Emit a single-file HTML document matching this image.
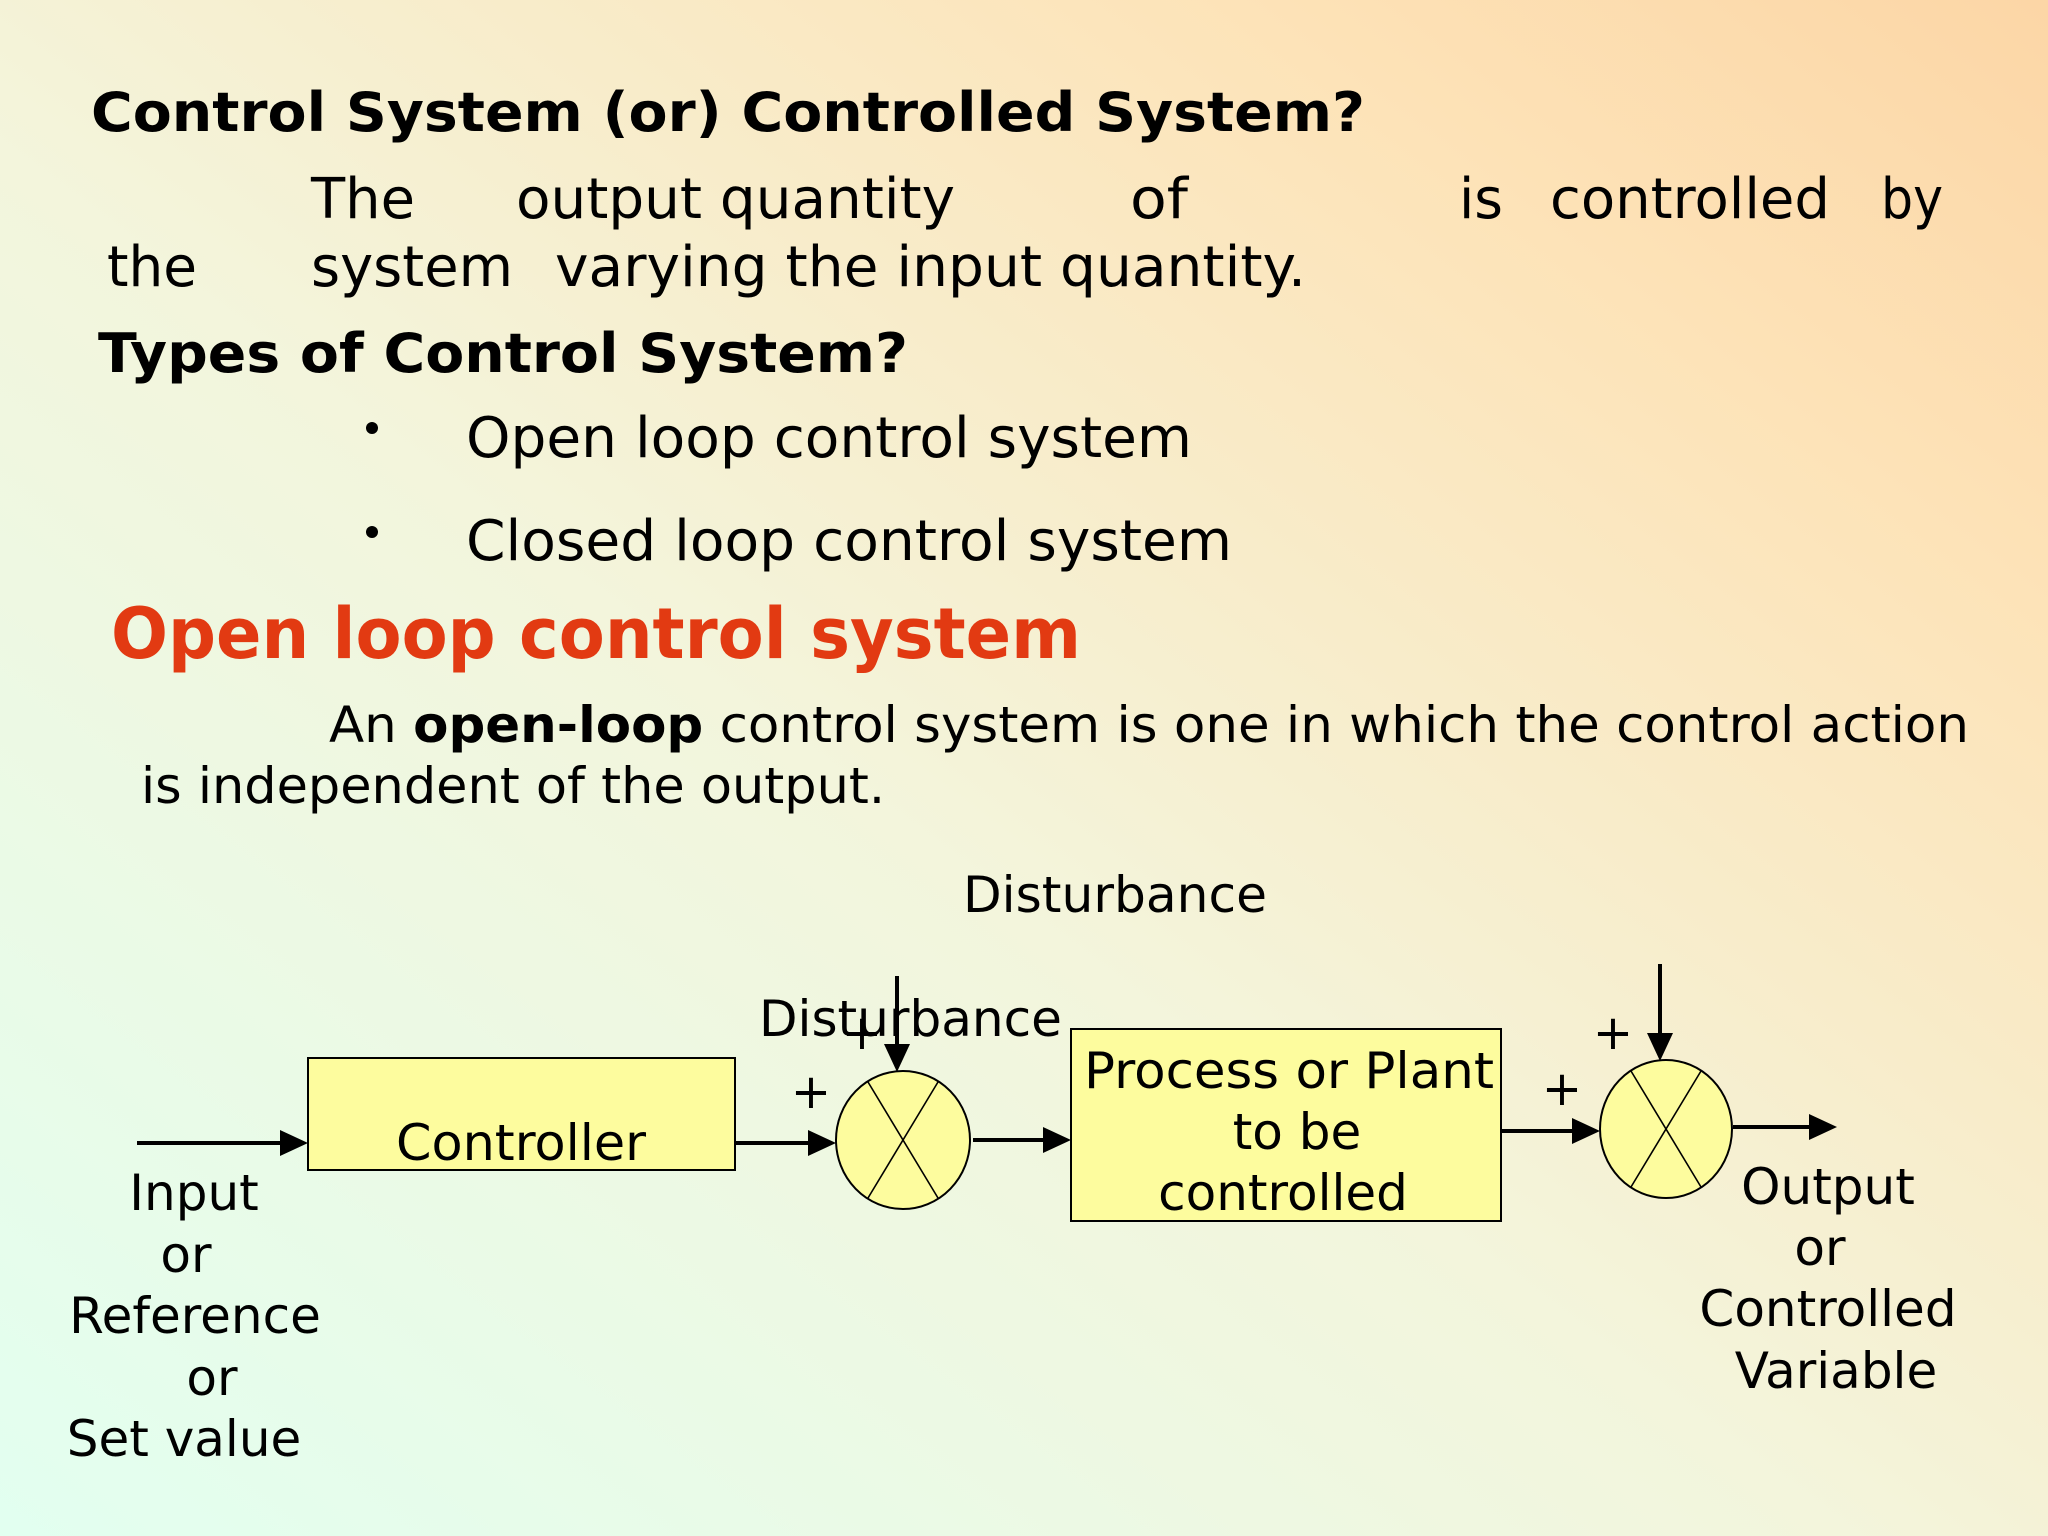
<!DOCTYPE html>
<html><head><meta charset="utf-8"><style>
html,body{margin:0;padding:0;}
body{width:2048px;height:1536px;overflow:hidden;background:linear-gradient(to top right,#e2fff0 0%,#f3f5dc 45%,#fde3b8 80%,#fcd6a6 100%);}
svg{display:block;font-family:"DejaVu Sans","Liberation Sans",sans-serif;}
</style></head><body>
<svg width="2048" height="1536" viewBox="0 0 2048 1536" xmlns="http://www.w3.org/2000/svg">
<g stroke="#000" stroke-width="2" fill="#fdfc9e">
<rect x="308" y="1058" width="427" height="112"/>
<rect x="1071" y="1029" width="430" height="192"/>
<ellipse cx="903" cy="1140" rx="67" ry="69"/>
<ellipse cx="1666" cy="1129" rx="66" ry="69"/>
</g>
<g stroke="#000" stroke-width="1.6">
<line x1="868" y1="1082" x2="938" y2="1198"/>
<line x1="938" y1="1082" x2="868" y2="1198"/>
<line x1="1631" y1="1071" x2="1701" y2="1187"/>
<line x1="1701" y1="1071" x2="1631" y2="1187"/>
</g>
<g stroke="#000" stroke-width="4" fill="none">
<line x1="137" y1="1143" x2="286" y2="1143"/>
<line x1="735" y1="1143" x2="814" y2="1143"/>
<line x1="973" y1="1140" x2="1049" y2="1140"/>
<line x1="1501" y1="1131" x2="1578" y2="1131"/>
<line x1="1733" y1="1127" x2="1815" y2="1127"/>
<line x1="897" y1="976" x2="897" y2="1048"/>
<line x1="1660" y1="964" x2="1660" y2="1037"/>
</g>
<g fill="#000">
<path d="M308,1143 l-28,-13 v26 z"/>
<path d="M836,1143 l-28,-13 v26 z"/>
<path d="M1071,1140 l-28,-13 v26 z"/>
<path d="M1600,1131 l-28,-13 v26 z"/>
<path d="M1837,1127 l-28,-13 v26 z"/>
<path d="M897,1072 l-13,-28 h26 z"/>
<path d="M1660,1061 l-13,-28 h26 z"/>
</g>
<g fill="#000">
<text x="91" y="131" font-size="54" font-weight="bold" textLength="1274" lengthAdjust="spacingAndGlyphs">Control System (or) Controlled System?</text>
<g font-size="56">
<text x="311" y="218" textLength="104" lengthAdjust="spacingAndGlyphs">The</text>
<text x="516" y="218" textLength="439" lengthAdjust="spacingAndGlyphs">output quantity</text>
<text x="1130" y="218" textLength="58" lengthAdjust="spacingAndGlyphs">of</text>
<text x="1459" y="218" textLength="44" lengthAdjust="spacingAndGlyphs">is</text>
<text x="1550" y="218" textLength="280" lengthAdjust="spacingAndGlyphs">controlled</text>
<text x="1881" y="218" textLength="62" lengthAdjust="spacingAndGlyphs">by</text>
<text x="107" y="286" textLength="90" lengthAdjust="spacingAndGlyphs">the</text>
<text x="311" y="286" textLength="202" lengthAdjust="spacingAndGlyphs">system</text>
<text x="555" y="286" textLength="751" lengthAdjust="spacingAndGlyphs">varying the input quantity.</text>
</g>
<text x="98" y="372" font-size="54" font-weight="bold" textLength="810" lengthAdjust="spacingAndGlyphs">Types of Control System?</text>
<circle cx="372" cy="428" r="6"/>
<circle cx="372" cy="532" r="6"/>
<text x="466" y="457" font-size="56" textLength="726" lengthAdjust="spacingAndGlyphs">Open loop control system</text>
<text x="466" y="560" font-size="56" textLength="766" lengthAdjust="spacingAndGlyphs">Closed loop control system</text>
<text x="111" y="658" font-size="70" font-weight="bold" fill="#e23a12" textLength="970" lengthAdjust="spacingAndGlyphs">Open loop control system</text>
<text x="329" y="742" font-size="50" textLength="1640" lengthAdjust="spacingAndGlyphs">An <tspan font-weight="bold">open-loop</tspan> control system is one in which the control action</text>
<text x="141" y="803" font-size="50" textLength="744" lengthAdjust="spacingAndGlyphs">is independent of the output.</text>

<g font-size="50">
<text x="963" y="912" textLength="304" lengthAdjust="spacingAndGlyphs">Disturbance</text>
<text x="759" y="1036" textLength="303" lengthAdjust="spacingAndGlyphs">Disturbance</text>
<g text-anchor="middle">
<text x="194" y="1210">Input</text>
<text x="186" y="1272">or</text>
<text x="195" y="1333">Reference</text>
<text x="212" y="1395">or</text>
<text x="184" y="1456">Set value</text>
<text x="1828" y="1204">Output</text>
<text x="1820" y="1265">or</text>
<text x="1828" y="1326">Controlled</text>
<text x="1836" y="1388">Variable</text>
<text x="1289" y="1088" textLength="410" lengthAdjust="spacingAndGlyphs">Process or Plant</text>
<text x="1297" y="1149">to be</text>
<text x="1283" y="1210">controlled</text>
<text x="521" y="1160" textLength="250" lengthAdjust="spacingAndGlyphs">Controller</text>
</g>
<g font-size="48" text-anchor="middle">
<text x="811" y="1108">+</text>
<text x="862" y="1049">+</text>
<text x="1613" y="1049">+</text>
<text x="1562" y="1105">+</text>
</g>
</g>
</g>
</svg>
</body></html>
